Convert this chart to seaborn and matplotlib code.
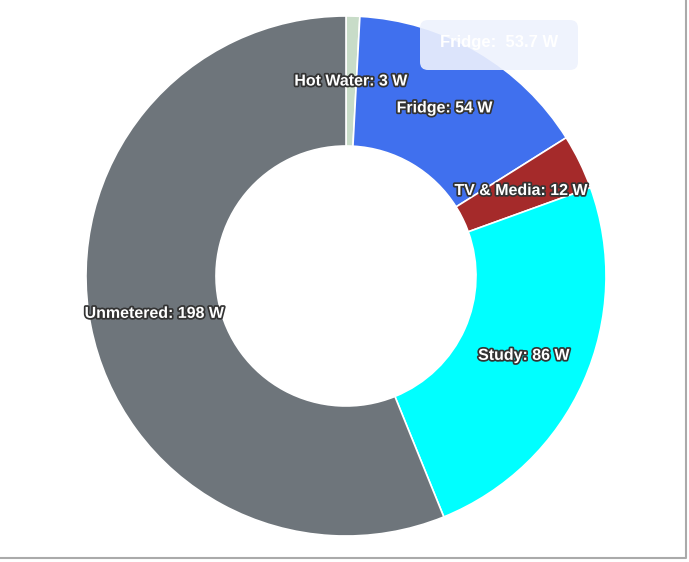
import matplotlib
matplotlib.use("Agg")
import matplotlib.pyplot as plt
import matplotlib.patheffects as pe
import seaborn as sns
import numpy as np

sns.set_theme(style="white")
plt.rcParams['font.family'] = ['Liberation Sans', 'DejaVu Sans']

categories = ["Hot Water", "Fridge", "TV & Media", "Study", "Unmetered"]
values = [3, 53.7, 12, 86, 198]
colors = ["#c8dcc8", "#4070ee", "#a52a2a", "#00ffff", "#6e757b"]

fig = plt.figure(figsize=(6.89, 5.62), dpi=100)
ax = fig.add_axes([0, 0, 1, 1])
ax.set_xlim(0, 689)
ax.set_ylim(0, 562)
ax.set_aspect("equal")
ax.axis("off")

cx, cy, R = 346, 286, 260
ax.pie(values, colors=colors, startangle=90, counterclock=False, center=(cx, cy), radius=R,
       wedgeprops=dict(width=130, edgecolor="white", linewidth=1.2), frame=True)
ax.set_xlim(0, 689); ax.set_ylim(0, 562); ax.axis("off")

total = sum(values)
cum = 0
for c, v in zip(categories, values):
    mid = (cum + v / 2) / total * 2 * np.pi
    cum += v
    x = cx + 195 * np.sin(mid)
    y = cy + 195 * np.cos(mid)
    ax.text(x, y, f"{c}: {round(v)} W", ha="center", va="center", color="white",
            fontsize=11.5, fontweight="bold",
            path_effects=[pe.withStroke(linewidth=2.5, foreground="#333333")])

# tooltip
from matplotlib.patches import FancyBboxPatch
ax.add_patch(FancyBboxPatch((420, 562 - 70), 158, 50, boxstyle="round,pad=0,rounding_size=8",
                            facecolor="#eef2fd", edgecolor="none", alpha=0.9, zorder=5))
ax.text(499, 562 - 42, "Fridge:  53.7 W", ha="center", va="center", color="white",
        fontsize=12, fontweight="bold", zorder=6)

# card border
ax.plot([0, 686, 686], [4, 4, 562], color="#aaaaaa", lw=1.5)
fig.savefig("out.png", dpi=100)
